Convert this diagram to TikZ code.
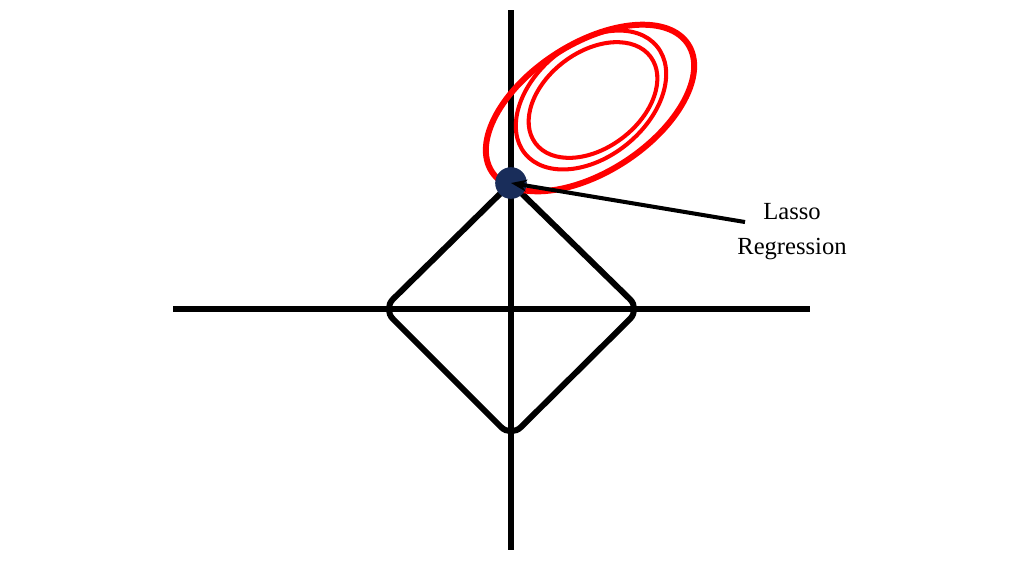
\documentclass[tikz,border=0pt]{standalone}
\usepackage{fontspec}
\setmainfont{Liberation Serif}
\usetikzlibrary{arrows.meta}
\definecolor{dotblue}{RGB}{25,45,90}
\tikzset{
  axis/.style={line width=3.4pt, black},
  ring/.style={draw=red, line width=2.3pt}
}
\begin{document}
\begin{tikzpicture}[x=0.02cm,y=-0.02cm]
		\useasboundingbox (0,0) rectangle (1024,576);
		% axes
		\draw[axis] (173,309) coordinate (xl) -- (810,309) coordinate (xr);
		\draw[axis] (511,10) coordinate (yt) -- (511,550) coordinate (yb);
		% constraint region
		\draw[axis, rounded corners=8] (511,183) -- (640,309) -- (511,437) -- (383,309) -- cycle;
		% contours
		\draw[ring, line width=3.4pt, rotate around={33:(590,108)}] (590,108) ellipse [x radius=117, y radius=64];
		\draw[ring, rotate around={39:(591,100)}] (591,100) ellipse [x radius=85, y radius=57];
		\draw[ring, rotate around={37:(593,100)}] (593,100) ellipse [x radius=72, y radius=48];
		% solution
		\node[circle, fill=dotblue, minimum size=18, inner sep=0] (sol) at (511,183) {};
		\node[align=center, font=\fontsize{14}{20}\selectfont] (lbl) at (792,232) {Lasso\\Regression};
		\draw[line width=2.3pt, -{Stealth[length=9pt]}] (745,222) coordinate (tail) -- (sol.center);
\end{tikzpicture}
\end{document}
